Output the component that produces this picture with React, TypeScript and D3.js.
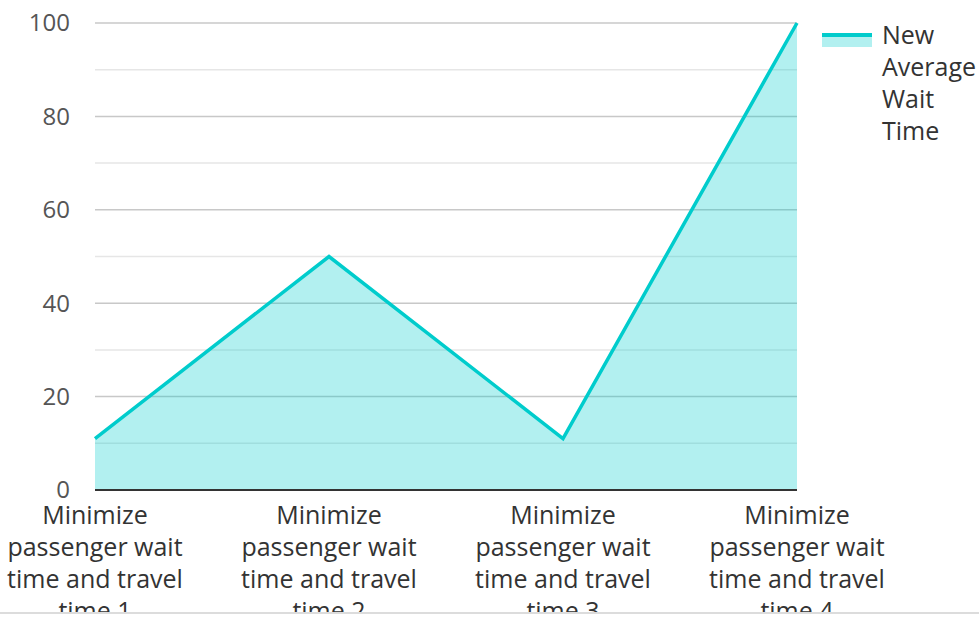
import React, { useEffect, useRef } from "react";
import * as d3 from "d3";

const categories = [
  "Minimize passenger wait time and travel time 1",
  "Minimize passenger wait time and travel time 2",
  "Minimize passenger wait time and travel time 3",
  "Minimize passenger wait time and travel time 4",
];
const values = [11, 50, 11, 100];
const seriesName = "New Average Wait Time";
const majorTicks = [0, 20, 40, 60, 80, 100];
const minorTicks = [10, 30, 50, 70, 90];
const legendLines = ["New", "Average", "Wait", "Time"];

const W = 979;
const H = 612;
const FONT = "'Open Sans', 'Noto Sans', sans-serif";
const FS = 25;
const FSY = 24;

function wrap(text: string, maxW: number, ctx: CanvasRenderingContext2D): string[] {
  const words = text.split(" ");
  const lines: string[] = [];
  let cur = "";
  for (const w of words) {
    const t = cur ? cur + " " + w : w;
    if (ctx.measureText(t).width > maxW && cur) {
      lines.push(cur);
      cur = w;
    } else cur = t;
  }
  if (cur) lines.push(cur);
  return lines;
}

export default function App() {
  const ref = useRef<SVGSVGElement>(null);
  useEffect(() => {
    const svg = d3.select(ref.current);
    svg.selectAll("*").remove();
    const left = 95, right = 797, top = 23, bottom = 490;
    const x = d3.scalePoint<string>().domain(categories).range([left, right]);
    const y = d3.scaleLinear().domain([0, 100]).range([bottom, top]);

    const g = svg.append("g");
    g.selectAll(".minor").data(minorTicks).enter().append("line")
      .attr("x1", left).attr("x2", right)
      .attr("y1", d => y(d)).attr("y2", d => y(d))
      .attr("stroke", "#e6e6e6").attr("stroke-width", 1.5);
    g.selectAll(".major").data(majorTicks.filter(d => d > 0)).enter().append("line")
      .attr("x1", left).attr("x2", right)
      .attr("y1", d => y(d)).attr("y2", d => y(d))
      .attr("stroke", "#c8c8c8").attr("stroke-width", 1.5);

    const data = categories.map((c, i) => ({ c, v: values[i] }));
    const area = d3.area<{ c: string; v: number }>()
      .x(d => x(d.c)!).y0(y(0)).y1(d => y(d.v));
    const line = d3.line<{ c: string; v: number }>()
      .x(d => x(d.c)!).y(d => y(d.v));
    g.append("path").attr("d", area(data)!).attr("fill", "rgba(0,204,204,0.3)");
    g.append("path").attr("d", line(data)!).attr("fill", "none")
      .attr("stroke", "#00cccc").attr("stroke-width", 3.5).attr("stroke-linejoin", "miter");

    g.append("line").attr("x1", left).attr("x2", right)
      .attr("y1", bottom).attr("y2", bottom)
      .attr("stroke", "#333").attr("stroke-width", 2);

    g.selectAll(".yl").data(majorTicks).enter().append("text")
      .attr("x", 70).attr("y", d => y(d)).attr("dy", "0.35em")
      .attr("text-anchor", "end").attr("font-family", FONT).attr("font-size", FSY)
      .attr("fill", "#555").text(d => d);

    const canvas = document.createElement("canvas");
    const ctx = canvas.getContext("2d")!;
    ctx.font = `${FS}px 'Open Sans'`;
    categories.forEach(c => {
      const lines = wrap(c, 210, ctx);
      const t = g.append("text").attr("text-anchor", "middle")
        .attr("font-family", FONT).attr("font-size", FS).attr("fill", "#333");
      lines.forEach((l, i) => {
        t.append("tspan").attr("x", x(c)!).attr("y", 524 + i * 32).text(l);
      });
    });

    const lg = svg.append("g");
    lg.append("rect").attr("x", 822).attr("y", 35).attr("width", 50).attr("height", 12)
      .attr("fill", "rgba(0,204,204,0.3)");
    lg.append("line").attr("x1", 822).attr("x2", 872).attr("y1", 35).attr("y2", 35)
      .attr("stroke", "#00cccc").attr("stroke-width", 4);
    const lt = lg.append("text").attr("font-family", FONT).attr("font-size", FS).attr("fill", "#333")
      .attr("aria-label", seriesName);
    legendLines.forEach((l, i) => {
      lt.append("tspan").attr("x", 882).attr("y", 44 + i * 32).text(l);
    });
  }, []);
  return (
    <div style={{ position: "absolute", left: 0, top: 0, width: W, height: H, overflow: "hidden", borderBottom: "2px solid #dcdcdc" }}>
      <svg ref={ref} width={W} height={H} style={{ display: "block" }} />
    </div>
  );
}
